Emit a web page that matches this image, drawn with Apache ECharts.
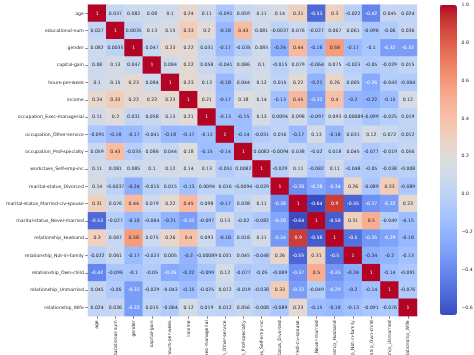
<!DOCTYPE html>
<html>
<head>
<meta charset="utf-8">
<script src="https://cdn.jsdelivr.net/npm/echarts@6/dist/echarts.min.js"></script>
<style>html,body{margin:0;padding:0;background:#fff}#c{width:474px;height:355px}</style>
</head>
<body>
<div id="c"></div>
<script>
const labels = ['age','educational-num','gender','capital-gain','hours-per-week','income',
  'occupation_Exec-managerial','occupation_Other-service','occupation_Prof-specialty',
  'workclass_Self-emp-inc','marital-status_Divorced','marital-status_Married-civ-spouse',
  'marital-status_Never-married','relationship_Husband','relationship_Not-in-family',
  'relationship_Own-child','relationship_Unmarried','relationship_Wife'];

const rowAge      = [1, 0.037, 0.082, 0.08, 0.1, 0.24, 0.11, -0.091, 0.059, 0.11, 0.14, 0.31, -0.53, 0.3, -0.022, -0.42, 0.045, 0.024];
const rowEdu      = [0.037, 1, 0.0035, 0.13, 0.15, 0.33, 0.2, -0.18, 0.43, 0.081, -0.0037, 0.076, -0.027, 0.067, 0.061, -0.096, -0.06, 0.036];
const rowGender   = [0.082, 0.0035, 1, 0.047, 0.23, 0.22, 0.031, -0.17, -0.035, 0.085, -0.24, 0.44, -0.18, 0.58, -0.17, -0.1, -0.32, -0.32];
const rowCapGain  = [0.08, 0.13, 0.047, 1, 0.084, 0.22, 0.058, -0.041, 0.086, 0.1, -0.015, 0.079, -0.064, 0.075, -0.023, -0.05, -0.029, 0.015];
const rowHours    = [0.1, 0.15, 0.23, 0.084, 1, 0.23, 0.13, -0.18, 0.044, 0.12, 0.015, 0.22, -0.21, 0.26, 0.005, -0.26, -0.043, -0.064];
const rowIncome   = [0.24, 0.33, 0.22, 0.22, 0.23, 1, 0.21, -0.17, 0.18, 0.14, -0.13, 0.45, -0.32, 0.4, -0.2, -0.22, -0.15, 0.12];
const rowExec     = [0.11, 0.2, 0.031, 0.058, 0.13, 0.21, 1, -0.13, -0.15, 0.13, 0.0094, 0.098, -0.097, 0.093, -0.00089, -0.099, -0.025, 0.019];
const rowOther    = [-0.091, -0.18, -0.17, -0.041, -0.18, -0.17, -0.13, 1, -0.14, -0.051, 0.016, -0.17, 0.13, -0.18, 0.031, 0.12, 0.072, 0.012];
const rowProf     = [0.059, 0.43, -0.035, 0.086, 0.044, 0.18, -0.15, -0.14, 1, 0.0082, -0.0094, 0.038, -0.02, 0.018, 0.045, -0.077, -0.019, 0.056];
const rowSelfEmp  = [0.11, 0.081, 0.085, 0.1, 0.12, 0.14, 0.13, -0.051, 0.0082, 1, -0.029, 0.11, -0.082, 0.11, -0.048, -0.05, -0.038, -0.008];
const rowDivorced = [0.14, -0.0037, -0.24, -0.015, 0.015, -0.13, 0.0094, 0.016, -0.0094, -0.029, 1, -0.38, -0.28, -0.34, 0.26, -0.089, 0.33, -0.089];
const rowMarried  = [0.31, 0.076, 0.44, 0.079, 0.22, 0.45, 0.098, -0.17, 0.038, 0.11, -0.38, 1, -0.64, 0.9, -0.55, -0.37, -0.32, 0.23];
const rowNever    = [-0.53, -0.027, -0.18, -0.064, -0.21, -0.32, -0.097, 0.13, -0.02, -0.082, -0.28, -0.64, 1, -0.58, 0.31, 0.5, -0.049, -0.15];
const rowHusband  = [0.3, 0.067, 0.58, 0.075, 0.26, 0.4, 0.093, -0.18, 0.018, 0.11, -0.34, 0.9, -0.58, 1, -0.5, -0.35, -0.29, -0.18];
const rowNotFam   = [-0.022, 0.061, -0.17, -0.023, 0.005, -0.2, -0.00089, 0.031, 0.045, -0.048, 0.26, -0.55, 0.31, -0.5, 1, -0.24, -0.2, -0.13];
const rowOwnChild = [-0.42, -0.096, -0.1, -0.05, -0.26, -0.22, -0.099, 0.12, -0.077, -0.05, -0.089, -0.37, 0.5, -0.35, -0.24, 1, -0.14, -0.091];
const rowUnmarr   = [0.045, -0.06, -0.32, -0.029, -0.043, -0.15, -0.025, 0.072, -0.019, -0.038, 0.33, -0.32, -0.049, -0.29, -0.2, -0.14, 1, -0.076];
const rowWife     = [0.024, 0.036, -0.32, 0.015, -0.064, 0.12, 0.019, 0.012, 0.056, -0.008, -0.089, 0.23, -0.15, -0.18, -0.13, -0.091, -0.076, 1];

const rows = [rowAge,rowEdu,rowGender,rowCapGain,rowHours,rowIncome,rowExec,rowOther,rowProf,rowSelfEmp,
  rowDivorced,rowMarried,rowNever,rowHusband,rowNotFam,rowOwnChild,rowUnmarr,rowWife];

const cbTicks = [-0.6,-0.4,-0.2,0,0.2,0.4,0.6,0.8,1.0];
const vmin = -0.64, vmax = 1;

const coolwarm = ['#3b4cc0','#445acc','#4d68d7','#5775e1','#6282ea','#6c8ef1','#779af7','#82a5fb',
  '#8db0fe','#98b9ff','#a3c2ff','#aec9fd','#b8d0f9','#c2d5f4','#ccd9ee','#d5dbe6','#dddddd',
  '#e5d8d1','#ecd3c5','#f1ccb8','#f5c4ac','#f7bba0','#f7b194','#f7a687','#f49a7b','#f18d6f',
  '#ec7f63','#e57058','#de604d','#d55042','#cb3e38','#c0282f','#b40426'];

const data = [];
rows.forEach((r, yi) => r.forEach((v, xi) => {
  const white = v >= 0.75 || v <= -0.25;
  data.push({ value: [xi, yi, v], label: { color: white ? '#ffffff' : '#262626' } });
}));

const font = 'DejaVu Sans';
const chart = echarts.init(document.getElementById('c'), null, { renderer: 'canvas' });
chart.setOption({
  animation: false,
  backgroundColor: '#ffffff',
  grid: [
    { left: 88, top: 4.7, width: 329, height: 311.4, containLabel: false, outerBoundsMode: 'none' },
    { left: 440, top: 5, width: 17, height: 310, containLabel: false, outerBoundsMode: 'none' }
  ],
  xAxis: [
    { type: 'category', data: labels, gridIndex: 0,
      axisLine: { show: false },
      axisTick: { show: true, length: 2.7, alignWithLabel: true, lineStyle: { color: '#262626', width: 0.6 } },
      axisLabel: { rotate: 90, interval: 0, fontSize: 4.6, color: '#262626', margin: 4.2, fontFamily: font, hideOverlap: false },
      splitLine: { show: false } },
    { type: 'value', gridIndex: 1, min: 0, max: 1, show: false }
  ],
  yAxis: [
    { type: 'category', data: labels, inverse: true, gridIndex: 0,
      axisLine: { show: false },
      axisTick: { show: true, length: 2.7, alignWithLabel: true, lineStyle: { color: '#262626', width: 0.6 } },
      axisLabel: { interval: 0, fontSize: 4.6, color: '#262626', margin: 4.2, fontFamily: font },
      splitLine: { show: false } },
    { type: 'value', gridIndex: 1, min: vmin, max: vmax, position: 'right',
      axisLine: { show: false },
      axisTick: { show: true, length: 2.7, customValues: cbTicks, lineStyle: { color: '#262626', width: 0.6 } },
      axisLabel: { show: true, customValues: cbTicks, fontSize: 4.6, color: '#262626', margin: 4.5, fontFamily: font,
        formatter: v => (v < 0 ? '\u2212' : '') + Math.abs(v).toFixed(1) },
      splitLine: { show: false } }
  ],
  visualMap: {
    type: 'continuous', min: vmin, max: vmax, seriesIndex: 0, show: true,
    orient: 'vertical', left: 440, top: 5, itemWidth: 17, itemHeight: 310,
    padding: 0, calculable: false, text: null, hoverLink: false, realtime: false,
    inRange: { color: coolwarm }
  },
  series: [{
    type: 'heatmap', xAxisIndex: 0, yAxisIndex: 0, data: data,
    label: { show: true, fontSize: 4.6, fontFamily: font,
      formatter: p => String(p.value[2]) },
    itemStyle: { borderWidth: 0 },
    emphasis: { disabled: true }
  }]
});
</script>
</body>
</html>
